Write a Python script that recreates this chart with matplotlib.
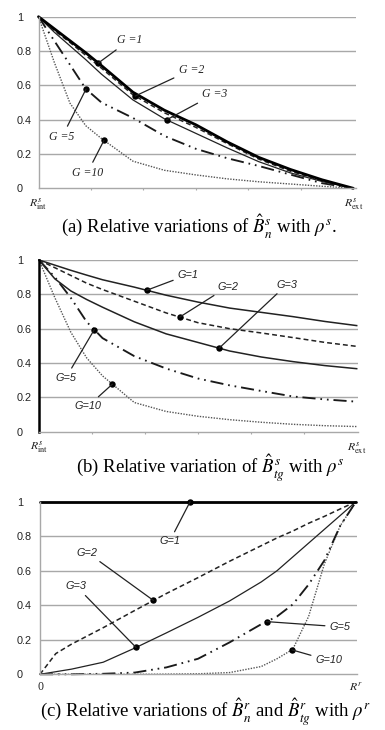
import numpy as np
import matplotlib
matplotlib.use("Agg")
import matplotlib.pyplot as plt
from matplotlib.ticker import FixedLocator

plt.rcParams['mathtext.fontset'] = 'stix'
plt.rcParams['font.family'] = ['Liberation Sans', 'DejaVu Sans']

# ---------------- data ----------------
y_ticks = [0, 0.2, 0.4, 0.6, 0.8, 1.0]
y_tick_labels = ["0", "0.2", "0.4", "0.6", "0.8", "1"]

# panel (a): relative variation of B_n^s
xa = [0, 0.05, 0.1, 0.15, 0.2, 0.3, 0.4, 0.5, 0.6, 0.7, 0.8, 0.9, 1.0]
a_g1 = [1, 0.93, 0.86, 0.79, 0.715, 0.56, 0.455, 0.37, 0.27, 0.18, 0.11, 0.05, 0]
a_g2 = [1, 0.92, 0.85, 0.775, 0.70, 0.545, 0.44, 0.355, 0.26, 0.17, 0.10, 0.045, 0]
a_g3 = [1, 0.91, 0.83, 0.75, 0.665, 0.515, 0.405, 0.32, 0.235, 0.155, 0.09, 0.04, 0]
a_g5 = [1, 0.86, 0.72, 0.58, 0.50, 0.41, 0.305, 0.23, 0.175, 0.13, 0.08, 0.03, 0]
a_g10 = [1, 0.735, 0.496, 0.365, 0.29, 0.158, 0.105, 0.078, 0.055, 0.038, 0.025, 0.012, 0]
a_xlabels = [r"$R^{s}_{\rm int}$", r"$R^{s}_{\rm ext}$"]

# panel (b): relative variation of B_tg^s
xb = [0, 0.05, 0.1, 0.15, 0.2, 0.3, 0.4, 0.5, 0.6, 0.7, 0.8, 0.9, 1.0]
b_g1 = [1, 0.97, 0.94, 0.912, 0.885, 0.842, 0.795, 0.755, 0.72, 0.695, 0.67, 0.642, 0.618]
b_g2 = [1, 0.955, 0.91, 0.865, 0.828, 0.76, 0.692, 0.635, 0.60, 0.575, 0.548, 0.52, 0.497]
b_g3 = [1, 0.89, 0.82, 0.77, 0.725, 0.64, 0.57, 0.52, 0.47, 0.435, 0.408, 0.385, 0.367]
b_g5 = [1, 0.90, 0.78, 0.64, 0.545, 0.44, 0.368, 0.31, 0.27, 0.237, 0.205, 0.188, 0.175]
b_g10 = [1, 0.78, 0.58, 0.43, 0.325, 0.17, 0.118, 0.09, 0.07, 0.055, 0.043, 0.035, 0.03]
b_xlabels = [r"$R^{s}_{\rm int}$", r"$R^{s}_{\rm ext}$"]

# panel (c): relative variations of B_n^r and B_tg^r
xc = [0, 0.05, 0.1, 0.2, 0.3, 0.4, 0.5, 0.6, 0.7, 0.75, 0.8, 0.85, 0.9, 0.95, 1.0]
c_g1 = [1, 1, 1, 1, 1, 1, 1, 1, 1, 1, 1, 1, 1, 1, 1]
c_g2 = [0, 0.12, 0.175, 0.27, 0.37, 0.468, 0.56, 0.655, 0.745, 0.79, 0.83, 0.875, 0.915, 0.958, 1]
c_g3 = [0, 0.015, 0.03, 0.07, 0.152, 0.24, 0.33, 0.425, 0.535, 0.60, 0.68, 0.76, 0.84, 0.92, 1]
c_g5 = [0, 0, 0, 0.003, 0.01, 0.04, 0.09, 0.185, 0.29, 0.335, 0.405, 0.52, 0.66, 0.86, 1]
c_g10 = [0, 0, 0, 0, 0, 0.001, 0.003, 0.01, 0.045, 0.09, 0.145, 0.335, 0.64, 0.86, 1]
c_xlabels = ["0", r"$R^{r}$"]

captions = [
    r"(a) Relative variations of $\hat{B}^{s}_{n}$ with $\rho^{s}$.",
    r"(b) Relative variation of $\hat{B}^{\,s}_{tg}$ with $\rho^{s}$",
    r"(c) Relative variations of $\hat{B}^{r}_{n}$ and $\hat{B}^{r}_{tg}$ with $\rho^{r}$",
]

# ---------------- styles ----------------
W, H = 385, 730
GRID = '#a8a8a8'
st_g1_thick = dict(color='black', lw=2.0, solid_capstyle='round')
st_g1 = dict(color='#222222', lw=1.1)
st_g2 = dict(color='#222222', lw=1.1, dashes=(3.2, 2.0))
st_g3 = dict(color='#222222', lw=0.9)
st_g5 = dict(color='#1a1a1a', lw=1.35, dashes=(7, 2.6, 0.9, 2.6, 0.9, 2.6))
st_g10 = dict(color='#555555', lw=1.0, dashes=(1.0, 1.0))

fig = plt.figure(figsize=(W / 100, H / 100), dpi=100)


def make_ax(x0, x1data, xr, ytop, ybot, left_color, left_lw):
    ax = fig.add_axes([x0 / W, (H - ybot) / H, (xr - x0) / W, (ybot - ytop) / H])
    ax.set_xlim(0, (xr - x0) / (x1data - x0))
    ax.set_ylim(0, 1)
    for s in ['top', 'right']:
        ax.spines[s].set_visible(False)
    ax.spines['bottom'].set_color(GRID)
    ax.spines['bottom'].set_linewidth(1.0)
    ax.spines['left'].set_color(left_color)
    ax.spines['left'].set_linewidth(left_lw)
    ax.set_yticks(y_ticks)
    ax.set_yticklabels(y_tick_labels, fontsize=7.8, color='#222222')
    for lab in ax.get_yticklabels():
        lab.set_horizontalalignment('left')
    ax.tick_params(axis='y', length=0, pad=(x0 - 17) * 0.72)
    for yv in y_ticks[1:]:
        ax.axhline(yv, color=GRID, lw=1.0, zorder=0)
    return ax


def annot(ax, text, xs, ys, xq, txy, fs=7.8, style='italic', family=None):
    yq = float(np.interp(xq, xs, ys))
    ax.plot([xq], [yq], 'o', color='black', ms=3.6, zorder=6, clip_on=False)
    kw = dict(fontsize=fs, style=style, color='#222222', ha='center', va='center')
    if family:
        kw['family'] = family
    ax.annotate(text, xy=(xq, yq), xytext=txy, textcoords='data',
                arrowprops=dict(arrowstyle='-', color='#222222', lw=0.9,
                                shrinkA=1.5, shrinkB=0), zorder=7, **kw)


def xlabels(ax, labels, ypos, fs=8.5):
    ax.set_xticks([0, 1])
    ax.set_xticklabels(labels, fontsize=fs, color='#222222', family='Liberation Serif')
    ax.tick_params(axis='x', length=0, pad=ypos)


CAP_FS = 13.5

# ---------------- panel (a) ----------------
ax = make_ax(38.5, 353.3, 355.5, 16.7, 188.3, GRID, 1.0)
ax.plot(xa, a_g10, **st_g10, clip_on=False)
ax.plot(xa, a_g5, **st_g5, clip_on=False)
ax.plot(xa, a_g3, **st_g3, clip_on=False)
ax.plot(xa, a_g2, **st_g2, clip_on=False)
ax.plot(xa, a_g1, **st_g1_thick, clip_on=False)
ax.xaxis.set_minor_locator(FixedLocator([1 / 6, 2 / 6, 3 / 6, 4 / 6, 5 / 6]))
ax.tick_params(axis='x', which='minor', length=1.5, color=GRID, width=0.8)
xlabels(ax, a_xlabels, 6)
serif = 'Liberation Serif'
annot(ax, "G =1", xa, a_g1, 0.19, (0.29, 0.865), fs=8.5, family=serif)
annot(ax, "G =2", xa, a_g2, 0.307, (0.485, 0.69), fs=8.5, family=serif)
annot(ax, "G =3", xa, a_g3, 0.407, (0.56, 0.55), fs=8.5, family=serif)
annot(ax, "G =5", xa, a_g5, 0.151, (0.075, 0.30), fs=8.5, family=serif)
annot(ax, "G =10", xa, a_g10, 0.208, (0.155, 0.09), fs=8.5, family=serif)
fig.text(199 / W, (H - 227) / H, captions[0], ha='center', va='center',
         fontsize=CAP_FS, family='Liberation Serif')

# ---------------- panel (b) ----------------
ax = make_ax(39, 356.7, 358, 260, 431.7, 'black', 1.8)
ax.plot(xb, b_g10, **st_g10, clip_on=False)
ax.plot(xb, b_g5, **st_g5, clip_on=False)
ax.plot(xb, b_g3, **st_g1, clip_on=False)
ax.plot(xb, b_g2, **st_g2, clip_on=False)
ax.plot(xb, b_g1, **st_g1, clip_on=False)
ax.xaxis.set_minor_locator(FixedLocator([1 / 6, 2 / 6, 3 / 6, 4 / 6, 5 / 6]))
ax.tick_params(axis='x', which='minor', length=1.5, color=GRID, width=0.8)
xlabels(ax, b_xlabels, 6)
annot(ax, "G=1", xb, b_g1, 0.339, (0.47, 0.915))
annot(ax, "G=2", xb, b_g2, 0.443, (0.595, 0.845))
annot(ax, "G=3", xb, b_g3, 0.567, (0.78, 0.857))
annot(ax, "G=5", xb, b_g5, 0.174, (0.085, 0.315))
annot(ax, "G=10", xb, b_g10, 0.231, (0.155, 0.15))
fig.text(210 / W, (H - 468) / H, captions[1], ha='center', va='center',
         fontsize=CAP_FS, family='Liberation Serif')

# ---------------- panel (c) ----------------
ax = make_ax(40, 356, 357, 501.7, 674.3, GRID, 1.0)
ax.plot(xc, c_g10, **st_g10, clip_on=False)
ax.plot(xc, c_g5, **st_g5, clip_on=False)
ax.plot(xc, c_g3, **st_g3, clip_on=False)
ax.plot(xc, c_g2, **st_g2, clip_on=False)
ax.plot(xc, c_g1, **st_g1_thick, clip_on=False)
xlabels(ax, c_xlabels, 5)
annot(ax, "G=1", xc, c_g1, 0.475, (0.41, 0.77))
annot(ax, "G=2", xc, c_g2, 0.359, (0.15, 0.705))
annot(ax, "G=3", xc, c_g3, 0.304, (0.115, 0.51))
annot(ax, "G=5", xc, c_g5, 0.717, (0.95, 0.275))
annot(ax, "G=10", xc, c_g10, 0.797, (0.915, 0.08))
fig.text(205 / W, (H - 712) / H, captions[2], ha='center', va='center',
         fontsize=CAP_FS, family='Liberation Serif')

fig.savefig("out.png", dpi=100)
